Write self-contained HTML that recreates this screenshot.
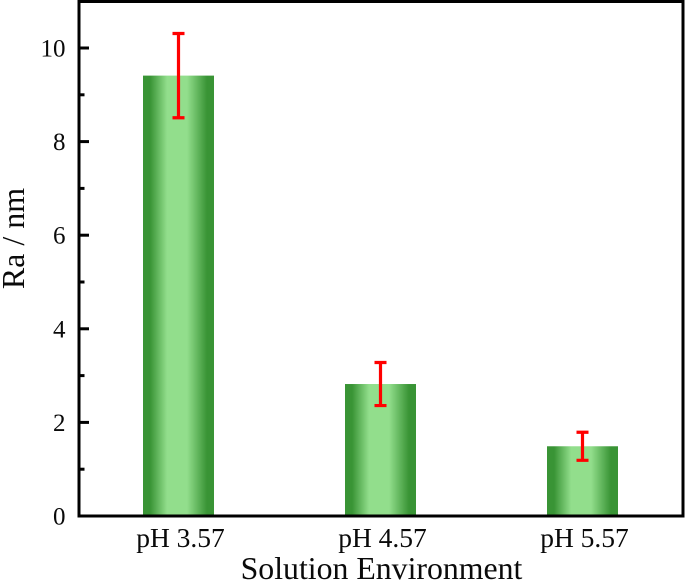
<!DOCTYPE html>
<html>
<head>
<meta charset="utf-8">
<style>
html,body{margin:0;padding:0;background:#fff;overflow:hidden;}
svg{display:block;font-family:"Liberation Serif",serif;fill:#0a0a0a;}
</style>
</head>
<body>
<svg id="chart" width="685" height="581" viewBox="0 0 685 581" xmlns="http://www.w3.org/2000/svg">
<defs>
<linearGradient id="barGrad" x1="0" x2="1" y1="0" y2="0">
<stop offset="0" stop-color="#399435"/>
<stop offset="0.1" stop-color="#399435"/>
<stop offset="0.34" stop-color="#92de8c"/>
<stop offset="0.62" stop-color="#92de8c"/>
<stop offset="0.9" stop-color="#399435"/>
<stop offset="1" stop-color="#399435"/>
</linearGradient>
</defs>
</svg>
<script>
const categories = ['pH 3.57', 'pH 4.57', 'pH 5.57'];
const raValues = [9.41, 2.82, 1.49];
const raErrors = [0.9, 0.46, 0.3];
const yTickLabels = [0, 2, 4, 6, 8, 10];
const yMinorTicks = [1, 3, 5, 7, 9];
const xTitle = 'Solution Environment';
const yTitle = 'Ra / nm';

const svg = document.getElementById('chart');
const NS = 'http://www.w3.org/2000/svg';
const plotLeft = 79, plotRight = 683, plotTop = 1.5, plotBottom = 516;
const yScale = v => 516 - v * 46.8;
const xScale = i => 178.5 + i * 202;
const barWidth = 71;

function make(tag, attrs, text) {
  const el = document.createElementNS(NS, tag);
  for (const k in attrs) el.setAttribute(k, attrs[k]);
  if (text !== undefined) el.textContent = text;
  svg.appendChild(el);
  return el;
}

raValues.forEach((v, i) => {
  const bar = make('rect', {x: xScale(i) - barWidth / 2, y: yScale(v), width: barWidth, height: plotBottom - yScale(v), fill: 'url(#barGrad)'});
  
  
  const hi = yScale(v + raErrors[i]), lo = yScale(v - raErrors[i]), cx = xScale(i);
  const err = make('path', {d: `M${cx} ${hi}V${lo}M${cx - 6} ${hi}H${cx + 6}M${cx - 6} ${lo}H${cx + 6}`, fill: 'none', stroke: '#ff0000', 'stroke-width': 3.2});
  
  
});

const frame = make('rect', {x: plotLeft, y: plotTop, width: plotRight - plotLeft, height: plotBottom - plotTop, fill: 'none', stroke: '#000', 'stroke-width': 3});



yTickLabels.forEach(v => {
  const y = yScale(v);
  if (v > 0) {
    const tick = make('line', {x1: plotLeft, x2: plotLeft + 10, y1: y, y2: y, stroke: '#000', 'stroke-width': 3});
    
    
  }
  const label = make('text', {x: 65.5, y: y + 8.5, 'text-anchor': 'end', 'font-size': 25}, String(v));
  
  
});

yMinorTicks.forEach(v => {
  const y = yScale(v);
  const tick = make('line', {x1: plotLeft, x2: plotLeft + 5.5, y1: y, y2: y, stroke: '#000', 'stroke-width': 3});
  
  
});

categories.forEach((c, i) => {
  const label = make('text', {x: xScale(i) + 2, y: 547, 'text-anchor': 'middle', 'font-size': 27.5}, c);
  
  
});

const xt = make('text', {x: 381.5, y: 579, 'text-anchor': 'middle', 'font-size': 31.8}, xTitle);



const yt = make('text', {x: 0, y: 0, 'text-anchor': 'middle', 'font-size': 32, transform: 'translate(24 238.5) rotate(-90)'}, yTitle);


</script>
</body>
</html>
